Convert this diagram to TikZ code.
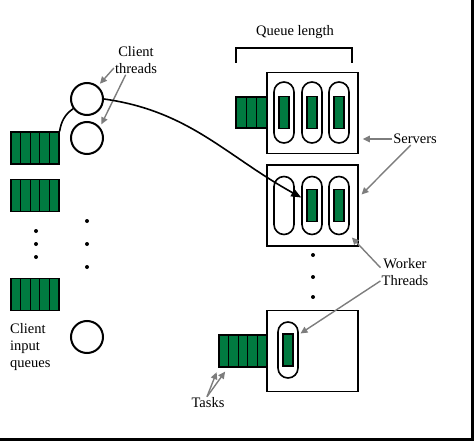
\documentclass[tikz,border=0pt]{standalone}
\usepackage{fontspec}
\setmainfont{Liberation Serif}
\usetikzlibrary{arrows.meta}
\definecolor{taskgreen}{RGB}{0,122,64}
\definecolor{notegray}{RGB}{125,125,125}
\tikzset{
	thread/.style={circle,draw,line width=2pt,minimum size=32pt,inner sep=0pt},
	server/.style={rectangle,draw,line width=1.5pt,minimum width=91pt,minimum height=81pt,inner sep=0pt},
	worker/.style={rectangle,rounded corners=10pt,draw,line width=1.6pt,minimum width=20pt,minimum height=58pt,inner sep=0pt},
	task/.style={rectangle,draw,fill=taskgreen,line width=1.1pt,minimum width=10pt,minimum height=32pt,inner sep=0pt},
	cell/.style={task,minimum width=9.6pt},
	note/.style={font=\fontsize{14.5}{17}\selectfont,inner sep=1pt},
	pointer/.style={draw=notegray,line width=1.4pt,-{Triangle[length=7pt,width=6.5pt]},shorten >=3pt},
	dot/.style={circle,fill,inner sep=0pt,minimum size=4pt}
}

\begin{document}
\begin{tikzpicture}[x=1pt,y=-1pt]
	\useasboundingbox (0,0) rectangle (474,441);
	% frame shadow
	\fill (471,0) rectangle (474,441);
	\fill (0,438) rectangle (474,441);

	% client input queues
	\foreach \i in {0,...,4} \node[cell] (qa\i) at (15.8+9.6*\i,148) {};
	\foreach \i in {0,...,4} \node[cell] (qb\i) at (15.8+9.6*\i,195.5) {};
	\foreach \i in {0,...,4} \node[cell] (qc\i) at (15.8+9.6*\i,294.5) {};
	\foreach \y in {231,244,257} \node[dot] at (36,\y) {};
	\node[note,anchor=north west,align=left] (ciq) at (9,322) {Client\\input\\queues};

	% client threads
	\node[thread] (c1) at (87,99) {};
	\node[thread] (c2) at (87,138) {};
	\node[thread] (c3) at (87,337) {};
	\foreach \y in {221,244,267} \node[dot] at (87,\y) {};
	\node[note,align=center] (ct) at (136,60) {Client\\threads};
	\draw[pointer] (ct.200) -- (c1.50);
	\draw[pointer] (ct.235) -- (c2.40);
	\draw[line width=1.6pt] (qa4.north east) to[out=80,in=215] (c1.215);

	% servers
	\node[server] (s1) at (312.5,113) {};
	\node[server] (s2) at (312.5,205.5) {};
	\node[server] (s3) at (312.5,351) {};
	\foreach \y in {255,277,297} \node[dot] at (313,\y) {};

	% worker threads
	\foreach \x [count=\n] in {284,312,339} {
		\node[worker,minimum height=61pt] (w1\n) at (\x,112.5) {};
		\node[task] at (w1\n) {};
		\node[worker] (w2\n) at (\x,205.5) {};
	}
	\node[task] at (w22) {};
	\node[task] at (w23) {};
	\node[worker,minimum height=56pt] (w31) at (288,350) {};
	\node[task] at (w31) {};

	% task queues
	\foreach \i in {0,...,2} \node[task,minimum width=10.4pt,minimum height=31pt] (qs\i) at (241.2+10.3*\i,112.5) {};
	\foreach \i in {0,...,4} \node[cell] (qt\i) at (223.8+9.6*\i,351) {};

	% queue length
	\draw[line width=1.3pt] (236,63) -- (236,48) -- (352,48) -- (352,63);
	\node[note] (ql) at (295,32) {Queue length};

	% request
	\draw[line width=1.6pt,-{Triangle[length=10pt,width=8pt]}] (c1.east) to[out=-8,in=151] ([yshift=8pt]w22.west);

	% labels
	\node[note] (sv) at (415,139) {Servers};
	\draw[pointer,shorten >=4pt] (sv.west) -- (s1.east |- sv.west);
	\draw[pointer,shorten >=4pt] (sv.235) -- (s2.10);
	\node[note,align=center] (wt) at (405,272) {Worker\\Threads};
	\draw[pointer] (wt.170) -- (w23.south east);
	\draw[pointer,shorten >=2pt] (wt.200) -- (w31.55);
	\node[note] (tk) at (208,403) {Tasks};
	\draw[pointer,shorten >=5pt] ([xshift=-1pt]tk.north) -- (qt0.south west);
	\draw[pointer,shorten >=5pt] ([xshift=-1pt]tk.north) -- (qt1.south west);
\end{tikzpicture}
\end{document}
